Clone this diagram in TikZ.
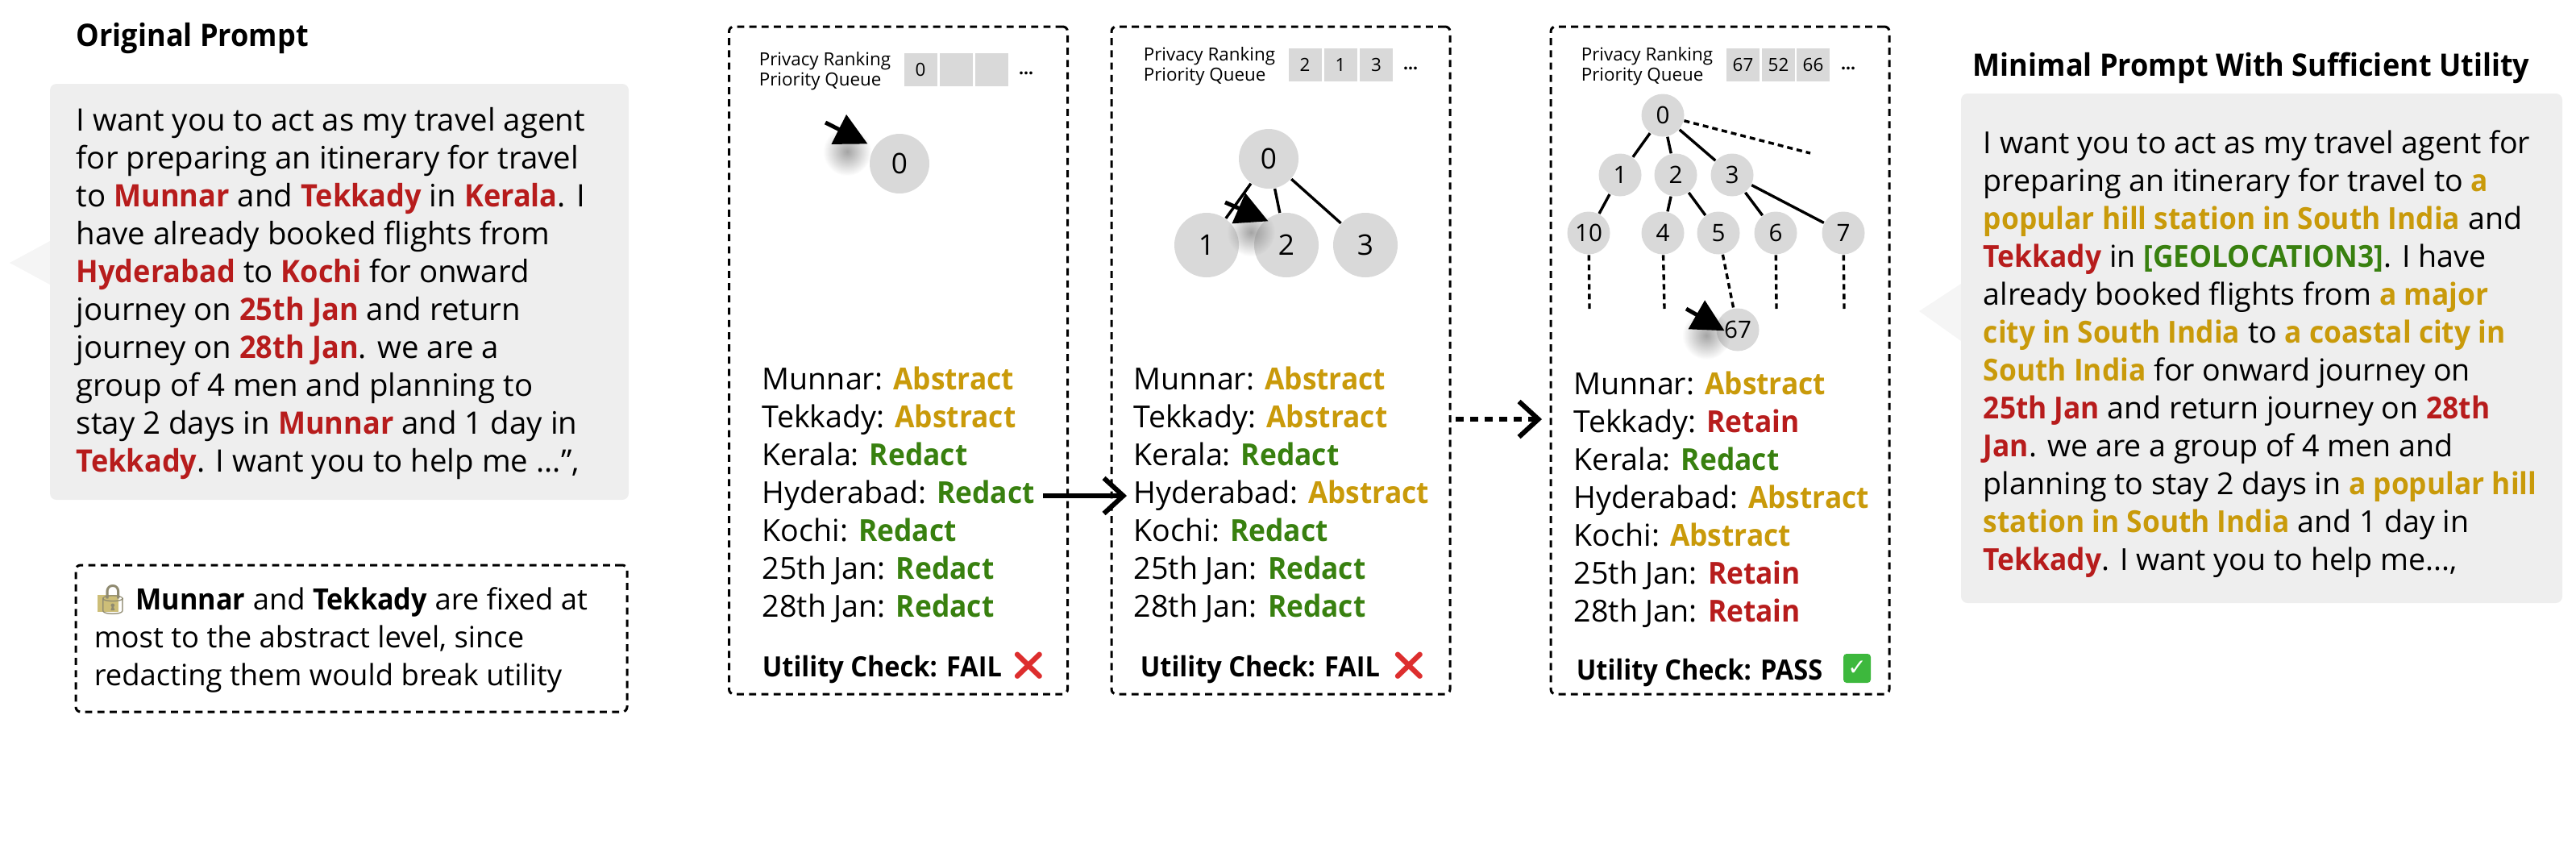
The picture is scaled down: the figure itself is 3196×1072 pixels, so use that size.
\documentclass[tikz,border=0pt]{standalone}
\usepackage{fontspec}
\usepackage{xcolor}
\usetikzlibrary{arrows.meta, fadings}
\setmainfont{Open Sans}[BoldFeatures={FakeStretch=0.94}]
\newfontfamily\emojifont{Noto Emoji}
\newfontfamily\symfont{DejaVu Sans}
\definecolor{privred}{HTML}{B71C1C}
\definecolor{privgold}{HTML}{C99A0A}
\definecolor{privgreen}{HTML}{38800F}
\definecolor{bubblegray}{HTML}{EEEEEE}
\definecolor{tailgray}{HTML}{F5F5F5}
\definecolor{nodegray}{HTML}{D9D9D9}
\definecolor{lockgold}{HTML}{CDBE78}
\definecolor{lockline}{HTML}{8F8A70}
\definecolor{crossred}{HTML}{DD2E2E}
\definecolor{tickgreen}{HTML}{3DB83D}
\newcommand{\redw}[1]{{\bfseries\color{privred}#1}}
\newcommand{\goldw}[1]{{\bfseries\color{privgold}#1}}
\newcommand{\greenw}[1]{{\bfseries\color{privgreen}#1}}
\newcommand{\lvlA}{\goldw{Abstract}}
\newcommand{\lvlR}{\greenw{Redact}}
\newcommand{\lvlK}{\redw{Retain}}
\tikzfading[name=spotfade, inner color=transparent!35, outer color=transparent!100]
\tikzset{every node/.append style={font=\fontsize{9.4}{11.75}\selectfont, inner sep=0pt}}
\tikzset{
    bubble/.style={fill=bubblegray, rounded corners=2pt},
    panel/.style={draw, dashed, line width=0.75pt, rounded corners=1.5pt, dash pattern=on 2.2pt off 1.6pt},
    prompt/.style={anchor=north west, align=left},
    heading/.style={anchor=base west, font=\fontsize{9.6}{10}\selectfont\bfseries},
    rowtext/.style={anchor=base west, text height=6.5pt, text depth=2pt},
    verdict/.style={anchor=base west, font=\fontsize{8.65}{10}\selectfont\bfseries},
    qlabel/.style={anchor=west, align=left, font=\fontsize{5.6}{6.25}\selectfont},
    qcell/.style={fill=nodegray, minimum width=10.25pt, minimum height=10.25pt, font=\fontsize{5.6}{6.25}\selectfont},
    qdots/.style={font=\fontsize{5.6}{6.25}\selectfont\bfseries},
    treebig/.style={circle, fill=nodegray, minimum size=20pt, font=\fontsize{8.8}{10}\selectfont},
    treemid/.style={treebig, minimum size=18.5pt},
    treesmall/.style={treebig, minimum size=13.25pt, font=\fontsize{7.4}{9}\selectfont},
    treeedge/.style={line width=0.85pt},
    treedash/.style={line width=0.85pt, dash pattern=on 1.75pt off 1.25pt},
    pointer/.style={-{Triangle[length=10pt,width=10pt]}, line width=1.25pt},
    spot/.style={fill=black!55, path fading=spotfade},
    flow/.style={-{Straight Barb[length=6pt,width=11pt]}, line width=1.5pt},
    crossmark/.style={text=crossred, font=\emojifont\fontsize{8.6}{12}\selectfont},
}

\begin{document}
\begin{tikzpicture}[x=0.25pt, y=-0.25pt, >=stealth]
    \useasboundingbox (0,0) rectangle (3196,1072);

    \node[heading] (titleleft) at (94,57) {Original Prompt};
    \fill[tailgray] (62,299) -- (12,326) -- (62,353) -- cycle;
    \node[bubble, minimum width=179.5pt, minimum height=129pt] (bubbleleft) at (421,362) {};
    \node[prompt, font=\fontsize{9.6}{11.75}\selectfont] (textleft) at (94,133) {I want you to act as my travel agent\\
        for preparing an itinerary for travel\\
        to \redw{Munnar} and \redw{Tekkady} in \redw{Kerala}. I\\
        have already booked flights from\\
        \redw{Hyderabad} to \redw{Kochi} for onward\\
        journey on \redw{25th Jan} and return\\
        journey on \redw{28th Jan}. we are a\\
        group of 4 men and planning to\\
        stay 2 days in \redw{Munnar} and 1 day in\\
        \redw{Tekkady}. I want you to help me ...”,};

    \node[panel, minimum width=171pt, minimum height=45.5pt] (note) at (436,792) {};
    \fill[lockgold] (121,738) rectangle (147,759);
    \node[prompt, font=\fontsize{9.1}{11.75}\selectfont] (notetext) at (116,725) {{\emojifont\color{lockline}🔒}\kern-1pt{} \textbf{Munnar} and \textbf{Tekkady} are fixed at\\
        most to the abstract level, since\\
        redacting them would break utility};

    \node[panel, minimum width=105pt, minimum height=207pt] (panela) at (1114.5,447) {};
    \node[panel, minimum width=105pt, minimum height=207pt] (panelb) at (1589,447) {};
    \node[panel, minimum width=105pt, minimum height=207pt] (panelc) at (2134,447) {};

    \node[qlabel] (qlabela) at (941,88) {Privacy Ranking\\Priority Queue};
    \node[qlabel] (qlabelb) at (1418,82) {Privacy Ranking\\Priority Queue};
    \node[qlabel] (qlabelc) at (1961,82) {Privacy Ranking\\Priority Queue};
    \foreach \x/\lab in {1142/0, 1186.5/, 1230.5/}
        \node[qcell] (qa\x) at (\x,86.5) {\lab};
    \foreach \x/\lab in {1619/2, 1663/1, 1707.5/3}
        \node[qcell] (qb\lab) at (\x,80.5) {\lab};
    \foreach \x/\lab in {2162.5/67, 2206.5/52, 2249.5/66}
        \node[qcell] (qc\lab) at (\x,80.5) {\lab};
    \node[qdots] (dotsa) at (1273,91) {...};
    \node[qdots] (dotsb) at (1750,85) {...};
    \node[qdots] (dotsc) at (2293,85) {...};

    \node[treemid] (rootz) at (1116,203) {0};

    \node[treemid] (bz) at (1574,197) {0};
    \node[treebig] (ba) at (1497,304) {1};
    \node[treebig] (bb) at (1596,304) {2};
    \node[treebig] (bc) at (1694,304) {3};
    \draw[treeedge] (bz) -- (ba);
    \draw[treeedge] (bz) -- (bb);
    \draw[treeedge] (bz) -- (bc);

    \foreach \nm/\lab/\x/\y in {cz/0/2063/143, ca/1/2010/217, cb/2/2079/217, cc/3/2149/217, cj/10/1971/289,
        cd/4/2063/289, ce/5/2132/289, cf/6/2203/289, cg/7/2287/289, ch/67/2156/409}
        \node[treesmall] (\nm) at (\x,\y) {\lab};
    \foreach \p/\q in {cz/ca, cz/cb, cz/cc, ca/cj, cb/cd, cb/ce, cc/cf, cc/cg}
        \draw[treeedge] (\p) -- (\q);
    \coordinate (endz) at (2246,190);
    \coordinate (endj) at (1972,383);
    \coordinate (endd) at (2065,383);
    \coordinate (endf) at (2204,383);
    \coordinate (endg) at (2288,383);
    \draw[treedash] (cz) -- (endz);
    \draw[treedash] (cj) -- (endj);
    \draw[treedash] (cd) -- (endd);
    \draw[treedash] (ce) -- (ch);
    \draw[treedash] (cf) -- (endf);
    \draw[treedash] (cg) -- (endg);

    \fill[spot] (1051,188) circle (30);
    \fill[spot] (1552,288) circle (30);
    \fill[spot] (2117,416) circle (30);
    \coordinate (ptra) at (1024,152);
    \coordinate (ptrb) at (1520,251);
    \coordinate (ptrc) at (2092,383);
    \draw[pointer, shorten >=2.2pt] (ptra) -- (rootz.147);
    \draw[pointer, shorten >=-1pt] (ptrb) -- (bb.130);
    \draw[pointer, shorten >=-3pt] (ptrc) -- (ch.170);

    \foreach \i/\txt in {0/Munnar: \lvlA, 1/Tekkady: \lvlA, 2/Kerala: \lvlR, 3/Hyderabad: \lvlR, 4/Kochi: \lvlR, 5/25th Jan: \lvlR, 6/28th Jan: \lvlR}
        \node[rowtext] (rowa\i) at (945,483+47*\i) {\txt};
    \foreach \i/\txt in {0/Munnar: \lvlA, 1/Tekkady: \lvlA, 2/Kerala: \lvlR, 3/Hyderabad: \lvlA, 4/Kochi: \lvlR, 5/25th Jan: \lvlR, 6/28th Jan: \lvlR}
        \node[rowtext] (rowb\i) at (1406,483+47*\i) {\txt};
    \foreach \i/\txt in {0/Munnar: \lvlA, 1/Tekkady: \lvlK, 2/Kerala: \lvlR, 3/Hyderabad: \lvlA, 4/Kochi: \lvlA, 5/25th Jan: \lvlK, 6/28th Jan: \lvlK}
        \node[rowtext] (rowc\i) at (1952,489+47*\i) {\txt};

    \node[verdict] (checka) at (945,839) {Utility Check: FAIL};
    \node[verdict] (checkb) at (1414,839) {Utility Check: FAIL};
    \node[verdict] (checkc) at (1955,843) {Utility Check: PASS};
    \node[crossmark] (crossa) at (1276,826) {❌};
    \node[crossmark] (crossb) at (1748,826) {❌};
    \node[fill=tickgreen, rounded corners=1pt, minimum width=8.5pt, minimum height=9pt, text=white, font=\symfont\fontsize{7}{8}\selectfont] (tick) at (2304,829) {✓};

    \draw[flow, shorten <=2.5pt, shorten >=2pt] (rowa3.east) -- (rowb3.west);
    \coordinate (gapa) at (1806,520);
    \coordinate (gapb) at (1913,520);
    \draw[flow, dash pattern=on 2.5pt off 2pt] (gapa) -- (gapb);

    \node[heading] (titleright) at (2447,94) {Minimal Prompt With Sufficient Utility};
    \fill[tailgray] (2433,352) -- (2381,386) -- (2433,423) -- cycle;
    \node[bubble, minimum width=186.5pt, minimum height=158pt] (bubbleright) at (2806,432) {};
    \node[prompt] (textright) at (2460,161) {I want you to act as my travel agent for\\
        preparing an itinerary for travel to \goldw{a}\\
        \goldw{popular hill station in South India} and\\
        \redw{Tekkady} in \greenw{[GEOLOCATION3]}. I have\\
        already booked flights from \goldw{a major}\\
        \goldw{city in South India} to \goldw{a coastal city in}\\
        \goldw{South India} for onward journey on\\
        \redw{25th Jan} and return journey on \redw{28th}\\
        \redw{Jan}. we are a group of 4 men and\\
        planning to stay 2 days in \goldw{a popular hill}\\
        \goldw{station in South India} and 1 day in\\
        \redw{Tekkady}. I want you to help me...,};
\end{tikzpicture}
\end{document}
